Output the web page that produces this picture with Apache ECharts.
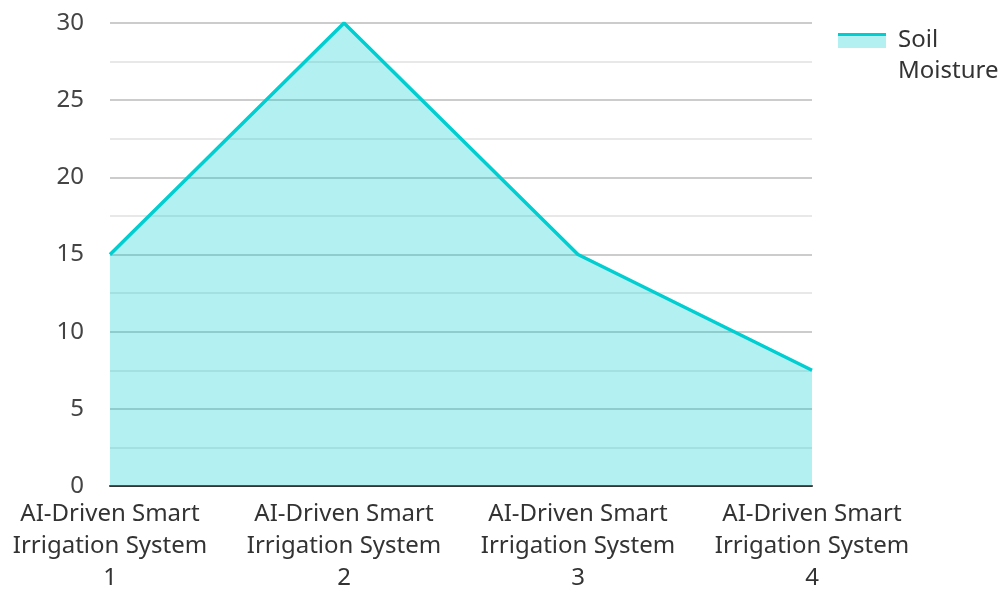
<!DOCTYPE html>
<html>
<head>
<meta charset="utf-8">
<script src="https://cdn.jsdelivr.net/npm/echarts@6/dist/echarts.min.js"></script>
<style>
  html, body { margin: 0; padding: 0; background: #fff; }
  #chart { width: 1002px; height: 594px; }
</style>
</head>
<body>
<div id="chart"></div>
<script>
// 数据
var categories = ['AI-Driven Smart Irrigation System 1', 'AI-Driven Smart Irrigation System 2',
  'AI-Driven Smart Irrigation System 3', 'AI-Driven Smart Irrigation System 4'];
var soilMoisture = [15, 30, 15, 7.5];
var seriesName = 'Soil\nMoisture';

var lineColor = '#00CED1';
var areaColor = 'rgba(0, 206, 209, 0.3)';

var myChart = echarts.init(document.getElementById('chart'));
var option = {
  textStyle: { fontFamily: 'Noto Sans' },
  legend: {
    data: [{ name: seriesName, icon: 'none' }],
    left: 838,
    top: 20,
    itemWidth: 50,
    itemHeight: 14,
    textStyle: { fontSize: 24, color: '#333', lineHeight: 31, fontFamily: 'Noto Sans' }
  },
  // 图例图标：上面一条线 + 下面浅色面积
  graphic: [
    { type: 'rect', left: 838, top: 36, shape: { width: 48, height: 12 }, style: { fill: areaColor }, silent: true },
    { type: 'rect', left: 838, top: 33, shape: { width: 48, height: 3 }, style: { fill: lineColor }, silent: true }
  ],
  grid: {
    left: 110,
    right: 190,
    top: 23,
    bottom: 104
  },
  xAxis: {
    type: 'category',
    data: categories,
    boundaryGap: false,
    axisLine: { lineStyle: { color: '#333', width: 2 } },
    axisTick: { show: false },
    axisLabel: {
      fontSize: 24,
      color: '#333',
      lineHeight: 32,
      margin: 12,
      interval: 0,
      formatter: function (v) {
        return v.replace(' Irrigation', '\nIrrigation').replace(/ (\d+)$/, '\n$1');
      }
    }
  },
  yAxis: {
    type: 'value',
    min: 0,
    max: 30,
    interval: 5,
    axisLine: { show: false },
    axisTick: { show: false },
    axisLabel: { fontSize: 24, color: '#444', margin: 26 },
    splitLine: { lineStyle: { color: '#cccccc', width: 2 } },
    minorTick: { show: false, splitNumber: 2 },
    minorSplitLine: { show: true, lineStyle: { color: '#e8e8e8', width: 2 } }
  },
  series: [{
    name: seriesName,
    type: 'line',
    data: soilMoisture,
    symbol: 'none',
    lineStyle: { color: lineColor, width: 3.5 },
    itemStyle: { color: lineColor },
    areaStyle: { color: areaColor, opacity: 1 }
  }]
};
myChart.setOption(option);
window.addEventListener('resize', function () {
  myChart.resize();
});
</script>
</body>
</html>
